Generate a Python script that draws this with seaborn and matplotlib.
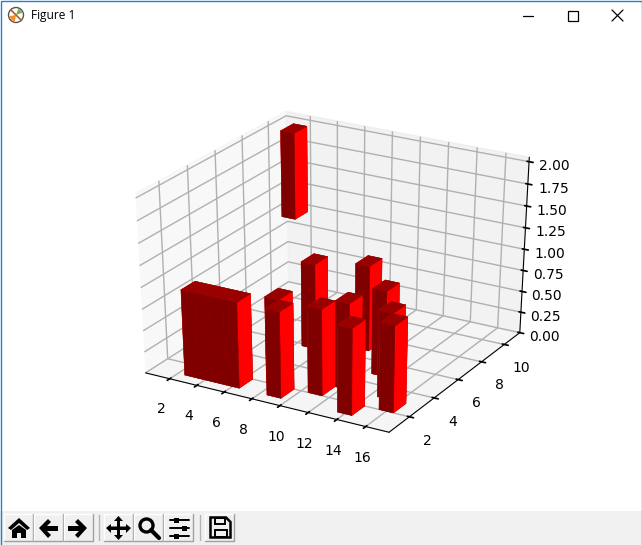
import matplotlib
matplotlib.use("Agg")
import matplotlib.pyplot as plt
from matplotlib.patches import Rectangle, Polygon, Circle, Wedge
import seaborn as sns
import numpy as np

sns.set_theme(style="white", font="DejaVu Sans", rc={
    "grid.color": "#b0b0b0", "grid.linewidth": 1.0, "font.size": 10,
    "xtick.labelsize": 10, "ytick.labelsize": 10, "axes.linewidth": 0.8,
    "xtick.major.size": 3.5, "ytick.major.size": 3.5,
    "xtick.color": "black", "ytick.color": "black", "axes.edgecolor": "black",
    "text.color": "black", "axes.labelcolor": "black"})

bar_x = [2.5, 3.5, 4.5, 5.5, 8.5, 7.5, 10.5, 11.5, 13.5, 15.5, 14.5, 12.5, 9.6, 6.5, 1.4]
bar_y = [1, 1, 1, 1, 1, 2, 2, 3, 1, 2, 3, 4.8, 6.7, 5.8, 9.7]
bar_z = [0, 0, 0, 0, 0, 0, 0, 0, 0, 0, 0, 0, 0, 0, 1]
bar_h = [1, 1, 1, 1, 1, 1, 1, 1, 1, 1, 1, 1, 1, 1, 1]
x_ticks = [2, 4, 6, 8, 10, 12, 14, 16]
y_ticks = [2, 4, 6, 8, 10]
z_ticks = [0.00, 0.25, 0.50, 0.75, 1.00, 1.25, 1.50, 1.75, 2.00]
face_shades = ["#990000", "#990000", "#800000", "#800000", "#ff0000", "#ff0000"]
title = "Figure 1"

W, H = 642, 545
fig = plt.figure(figsize=(W / 100, H / 100), dpi=100, facecolor="white")
ax = fig.add_axes([81 / W, 89 / H, 496 / W, 370 / H], projection="3d")
ax.apply_aspect = lambda position=None: None
ax.set_box_aspect((1, 1, 0.977), zoom=0.945)
ax.bar3d(bar_x, bar_y, bar_z, 1, 1, bar_h, color=face_shades * len(bar_x), shade=False,
         edgecolor=face_shades * len(bar_x), linewidth=0.3)
ax.set_xlim(0.2, 17.6)
ax.set_ylim(0.4, 11.4)
ax.set_zlim(0, 2.05)
ax.set_xticks(x_ticks)
ax.set_yticks(y_ticks)
ax.set_zticks(z_ticks)
ax.set_zticklabels([f"{v:.2f}" for v in z_ticks])
ax.tick_params(axis="x", pad=6)
ax.tick_params(axis="y", pad=4)
ax.tick_params(axis="z", pad=3)
for lb in ax.get_xticklabels():
    lb.set_ha("left")

# window chrome, in pixel coordinates
ui = fig.add_axes([0, 0, 1, 1], zorder=5)
ui.set_xlim(0, W); ui.set_ylim(H, 0); ui.axis("off"); ui.patch.set_alpha(0)
ui.add_patch(Rectangle((0, 511), W, 34, fc="#f0f0f0", ec="none"))
ui.add_patch(Rectangle((0.5, 0.5), W - 1, H, fc="none", ec="#1a84d8", lw=1))
ui.text(31, 16, title, fontsize=8.6, family="Open Sans", va="center", ha="left", color="black")
# app logo
ui.add_patch(Circle((16, 15), 7.5, fc="white", ec="#555555", lw=1))
ui.add_patch(Wedge((16, 15), 6.5, 100, 170, fc="#f0902a", ec="none"))
ui.add_patch(Wedge((16, 15), 6.5, 290, 340, fc="#77b04a", ec="none"))
ui.plot([11, 21], [10, 20], color="#b05a2a", lw=1.2)
# window controls
ui.plot([523, 533], [16, 16], color="black", lw=0.9)
ui.add_patch(Rectangle((567.5, 10.5), 10, 10, fc="none", ec="black", lw=0.9))
ui.plot([612, 623], [10, 21], color="black", lw=0.9)
ui.plot([612, 623], [21, 10], color="black", lw=0.9)
# toolbar buttons
for bx in [4, 34, 64, 104, 134, 164, 205]:
    ui.add_patch(Rectangle((bx, 514), 29, 27, fc="#f0f0f0", ec="none"))
    ui.plot([bx, bx, bx + 29], [541, 514, 514], color="white", lw=1)
    ui.plot([bx, bx + 29, bx + 29], [541, 541, 514], color="#a0a0a0", lw=1)
for sx in [98.5, 199.5]:
    ui.plot([sx, sx], [515, 540], color="#b5b5b5", lw=1)
k = "black"
def poly(pts):
    ui.add_patch(Polygon(pts, closed=True, fc=k, ec="none"))
# home
poly([(8, 528), (19, 518), (30, 528), (27, 530), (19, 523), (11, 530)])
poly([(12, 530), (19, 525), (26, 530), (26, 538), (21, 538), (21, 533), (17, 533), (17, 538), (12, 538)])
# back / forward
for cx, s in [(48, 1), (78, -1)]:
    poly([(cx - s * 9, 528), (cx, 519), (cx + s * 3, 522), (cx - s * 1, 526), (cx + s * 10, 526),
          (cx + s * 10, 531), (cx - s * 1, 531), (cx + s * 3, 535), (cx, 538)])
# pan
poly([(118.5, 516), (123, 521), (120, 521), (120, 526.5), (126, 526.5), (126, 524), (131, 528), (126, 533),
      (126, 530), (120, 530), (120, 535), (123, 535), (118.5, 540), (114, 535), (117, 535), (117, 530),
      (111, 530), (111, 533), (106, 528), (111, 524), (111, 526.5), (117, 526.5), (117, 521), (114, 521)])
# zoom
ui.add_patch(Circle((146.5, 525.5), 6.5, fc="none", ec=k, lw=2.4))
ui.plot([151, 159], [530, 538], color=k, lw=3)
# sliders
for sy, hx in [(520, 176), (528, 184), (536, 176)]:
    ui.plot([170, 189], [sy, sy], color=k, lw=1.4)
    ui.add_patch(Rectangle((hx - 2.5, sy - 2.5), 5, 5, fc=k, ec="none"))
# save
ui.add_patch(Polygon([(210.5, 517.5), (226, 517.5), (230.5, 522), (230.5, 537.5), (210.5, 537.5)],
                     closed=True, fc="none", ec=k, lw=1.8))
ui.add_patch(Rectangle((214.5, 518), 10, 6, fc="none", ec=k, lw=1.4))
ui.add_patch(Rectangle((214.5, 530), 12, 7, fc="none", ec=k, lw=1.4))

fig.savefig("out.png", dpi=100)
